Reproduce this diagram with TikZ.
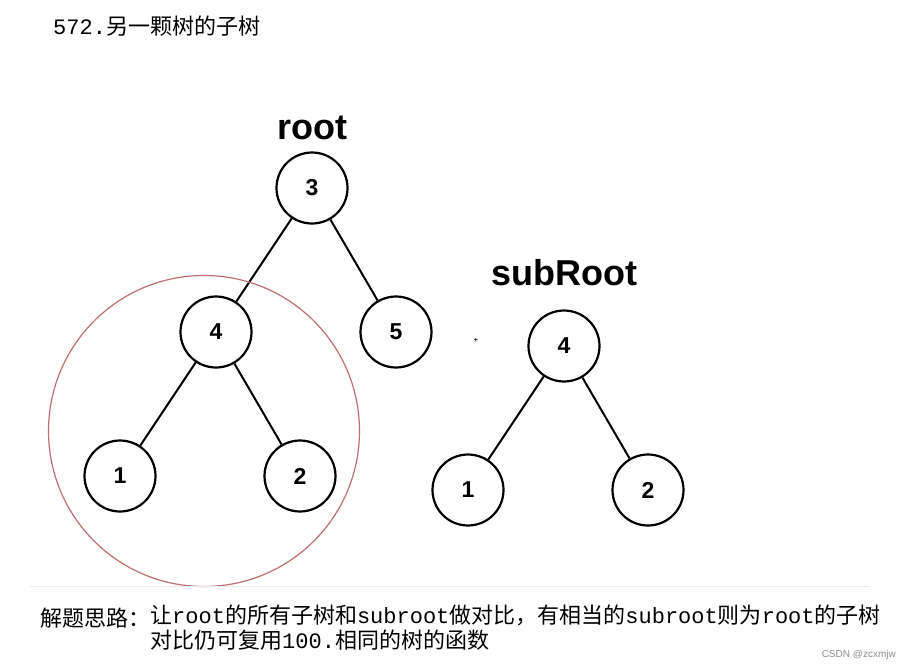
\documentclass[tikz,border=0pt]{standalone}
\usepackage{fontspec}
\setmainfont{Liberation Sans}
\newfontfamily\cjk{Noto Sans CJK SC}
\newfontfamily\mono{Liberation Mono}
\begin{document}
\begin{tikzpicture}[x=1pt,y=-1pt,
  tn/.style={circle,draw=black,line width=2.2pt,minimum size=71pt,inner sep=0pt,font=\fontsize{23}{23}\selectfont\bfseries},
  lbl/.style={font=\fontsize{36}{36}\selectfont\bfseries},
  edge/.style={line width=2pt},
  txt/.style={anchor=west,inner sep=0pt,font=\fontsize{22}{22}\selectfont}]
\useasboundingbox (0,0) rectangle (911,670);
\node[txt] (title) at (53,26) {\mono 572.\cjk 另一颗树的子树};
\node[lbl] (lroot) at (312,128) {root};
\node[tn] (r3) at (312,188) {3};
\node[tn] (r4) at (216,332) {4};
\node[tn] (r5) at (396,332) {5};
\node[tn] (r1) at (120,476) {1};
\node[tn] (r2) at (300,476) {2};
\draw[edge] (r3) -- (r4);
\draw[edge] (r3) -- (r5);
\draw[edge] (r4) -- (r1);
\draw[edge] (r4) -- (r2);
\node[circle,draw={rgb,255:red,190;green,110;blue,110},line width=1.2pt,minimum size=311pt,inner sep=0pt] (big) at (204,431) {};
\node[lbl] (lsub) at (564,273) {subRoot};
\node[tn] (s4) at (564,346) {4};
\node[tn] (s1) at (468,490) {1};
\node[tn] (s2) at (648,490) {2};
\draw[edge] (s4) -- (s1);
\draw[edge] (s4) -- (s2);
\node[inner sep=0pt,font=\fontsize{7}{7}\selectfont\bfseries] (dot) at (476,340) {+};
\coordinate (la) at (30,586);
\coordinate (lb) at (870,586);
\draw[black!8,line width=0.8pt] (la) -- (lb);
\node[txt] (t1) at (40,618) {\cjk 解题思路：};
\node[txt] (t2) at (150,615) {\cjk 让\mono root\cjk 的所有子树和\mono subroot\cjk 做对比，有相当的\mono subroot\cjk 则为\mono root\cjk 的子树};
\node[txt] (t3) at (150,640) {\cjk 对比仍可复用\mono 100.\cjk 相同的树的函数};
\node[anchor=east,inner sep=0pt,text=black!45,font=\fontsize{10}{10}\selectfont] (csdn) at (896,655) {CSDN @zcxmjw};
\end{tikzpicture}
\end{document}
